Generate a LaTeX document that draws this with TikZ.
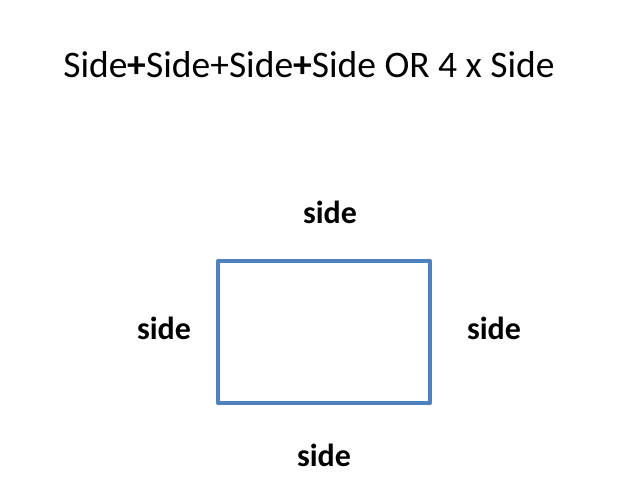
\documentclass[tikz,border=0pt]{standalone}
\usepackage{fontspec}
\setmainfont{Carlito}
\definecolor{officeblue}{HTML}{4F81BD}
\begin{document}
\begin{tikzpicture}[x=1pt,y=-1pt,
  lbl/.style={font=\fontsize{32}{36}\selectfont\bfseries, inner sep=0pt},
  ttl/.style={font=\fontsize{37.5}{44}\selectfont, inner sep=0pt}]
\useasboundingbox[fill=white] (0,0) rectangle (638,479);
\node[ttl] (title) at (309,65) {Side\textbf{+}Side+Side\textbf{+}Side OR 4 x Side};
\draw[officeblue, line width=4pt, line join=round] (218,261) rectangle (430,403);
\node[lbl] (top) at (330,212) {side};
\node[lbl] (left) at (164,328) {side};
\node[lbl] (right) at (494,328) {side};
\node[lbl] (bottom) at (324,455) {side};
\end{tikzpicture}
\end{document}
